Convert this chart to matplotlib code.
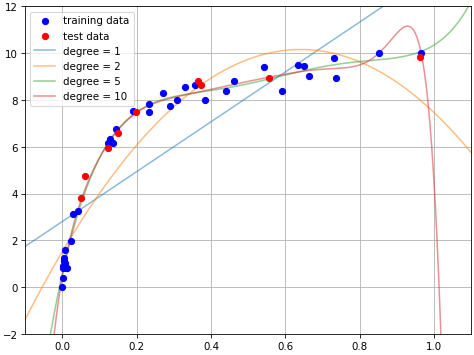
import numpy as np
import matplotlib
matplotlib.use('Agg')
import matplotlib.pyplot as plt

# training samples
x_train = [0.000, 0.001, 0.002, 0.003, 0.004, 0.006, 0.009, 0.013, 0.004,
           0.008, 0.024, 0.028, 0.041, 0.124, 0.128, 0.137, 0.143, 0.191,
           0.232, 0.232, 0.272, 0.289, 0.308, 0.330, 0.357, 0.384, 0.441,
           0.462, 0.541, 0.591, 0.635, 0.651, 0.662, 0.730, 0.736, 0.852,
           0.965]
y_train = [0.02, 0.38, 0.90, 0.80, 1.10, 1.05, 0.82, 0.83, 1.25,
           1.58, 1.97, 3.12, 3.26, 6.15, 6.33, 6.18, 6.77, 7.51,
           7.82, 7.47, 8.30, 7.75, 7.99, 8.54, 8.64, 7.98, 8.40,
           8.80, 9.42, 8.38, 9.51, 9.44, 9.04, 9.78, 8.93, 10.02,
           10.00]

# test samples
x_test = [0.049, 0.062, 0.122, 0.150, 0.197, 0.366, 0.373, 0.555, 0.963]
y_test = [3.80, 4.74, 5.97, 6.60, 7.48, 8.80, 8.65, 8.94, 9.85]

degrees = [1, 2, 5, 10]

fig, ax = plt.subplots(figsize=(6.4, 4.8), dpi=74.1)
ax.scatter(x_train, y_train, color='blue', label='training data', zorder=3)
ax.scatter(x_test, y_test, color='red', label='test data', zorder=3)

xs = np.linspace(-0.1, 1.1, 1000)
for d in degrees:
    coef = np.polyfit(x_train, y_train, d)
    ax.plot(xs, np.polyval(coef, xs), alpha=0.5, label=f'degree = {d}')

ax.set_xlim(-0.1, 1.1)
ax.set_ylim(-2, 12)
ax.grid(True)
ax.legend(loc='upper left')
fig.subplots_adjust(left=0.053, right=0.994, bottom=0.059, top=0.98)
fig.savefig('out.png')
